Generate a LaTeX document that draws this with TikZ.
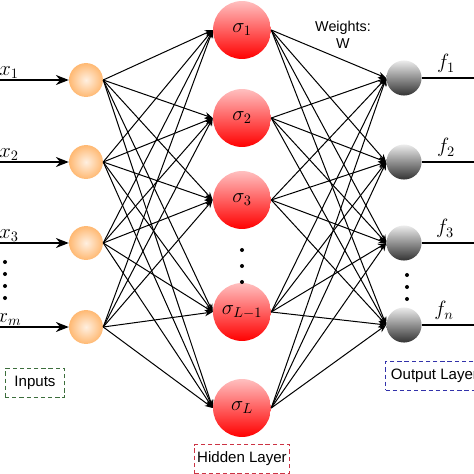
\documentclass[tikz,border=0pt]{standalone}
\usepackage{amsmath}
\usepackage{fontspec}
\setmainfont{Liberation Sans}
\usetikzlibrary{arrows.meta}
\definecolor{inboxgreen}{RGB}{60,110,60}
\definecolor{hidboxred}{RGB}{204,51,68}
\definecolor{outboxblue}{RGB}{50,50,170}

\begin{document}
\begin{tikzpicture}[x=0.0245cm, y=-0.0245cm, >={Stealth[length=5.5pt,width=4.5pt]},
  inp/.style={circle, minimum size=0.83cm, inner sep=0pt, shading=radial, inner color=orange!12, outer color=orange!55},
  hid/.style={circle, minimum size=1.42cm, inner sep=0pt, top color=red!25, bottom color=red, font=\Large},
  outp/.style={circle, minimum size=0.86cm, inner sep=0pt, top color=gray!15, bottom color=black!80},
  wt/.style={->, line width=0.7pt},
  feed/.style={-{Stealth[length=9pt,width=7pt]}, line width=0.9pt},
  lbl/.style={font=\Large},
  layerbox/.style={draw, dash pattern=on 3pt off 2pt, line width=0.7pt, inner xsep=2pt, minimum height=0.69cm, font=\fontsize{10.5}{12}\selectfont}]
\useasboundingbox (0,0) rectangle (474,474);
% input layer
\node[inp] (i1) at (86,80) {};\node[inp] (i2) at (86,162) {};\node[inp] (i3) at (86,243) {};\node[inp] (i4) at (86,327) {};
\coordinate (s1) at (0,80);\coordinate (s2) at (0,162);\coordinate (s3) at (0,243);\coordinate (s4) at (0,327);
\draw[feed] (s1) -- (i1);\draw[feed] (s2) -- (i2);\draw[feed] (s3) -- (i3);\draw[feed] (s4) -- (i4);
\node[lbl, above, inner sep=1pt] (x1) at (9,80) {$x_1$};\node[lbl, above, inner sep=1pt] (x2) at (9,162) {$x_2$};
\node[lbl, above, inner sep=1pt] (x3) at (9,243) {$x_3$};\node[lbl, above, inner sep=1pt] (xm) at (9,327) {$x_m$};
\foreach \y in {262,274,286,298} \fill (5,\y) circle (1.4pt);
% hidden layer
\node[hid] (h1) at (242,30) {$\sigma_1$};\node[hid] (h2) at (242,118) {$\sigma_2$};\node[hid] (h3) at (242,200) {$\sigma_3$};
\node[hid] (h4) at (242,312) {$\sigma_{L-1}$};\node[hid] (h5) at (242,408) {$\sigma_L$};
\foreach \y in {250,266,282} \fill (242,\y) circle (1.4pt);
% output layer
\node[outp] (o1) at (404,78) {};\node[outp] (o2) at (404,162) {};\node[outp] (o3) at (404,243) {};\node[outp] (o4) at (404,325) {};
\coordinate (e1) at (474,78);\coordinate (e2) at (474,162);\coordinate (e3) at (474,243);\coordinate (e4) at (474,325);
\draw[line width=0.8pt] (o1) -- (e1);\draw[line width=0.8pt] (o2) -- (e2);\draw[line width=0.8pt] (o3) -- (e3);\draw[line width=0.8pt] (o4) -- (e4);
\node[lbl, above] (f1) at (446,78) {$f_1$};\node[lbl, above] (f2) at (446,162) {$f_2$};\node[lbl, above] (f3) at (445,243) {$f_3$};\node[lbl, above] (fn) at (444,325) {$f_n$};
\foreach \y in {275,287,299} \fill (407,\y) circle (1.4pt);
% weights
\foreach \a in {1,...,4} \foreach \b in {1,...,5} \draw[wt] (i\a.east) -- (h\b.west);
\foreach \b in {1,...,5} \foreach \c in {1,...,4} \draw[wt] (h\b.east) -- (o\c.west);
\node[align=center] (wlbl) at (343,35) {Weights:\\W};
% layer boxes
\node[layerbox, draw=inboxgreen, minimum width=1.47cm] (inbox) at (35,383) {Inputs};
\node[layerbox, draw=hidboxred, minimum width=2.28cm] (hidbox) at (242,459) {Hidden Layer};
\node[layerbox, draw=outboxblue, anchor=west, minimum width=2.4cm] (outbox) at (385,376) {Output Layer};
\end{tikzpicture}
\end{document}
